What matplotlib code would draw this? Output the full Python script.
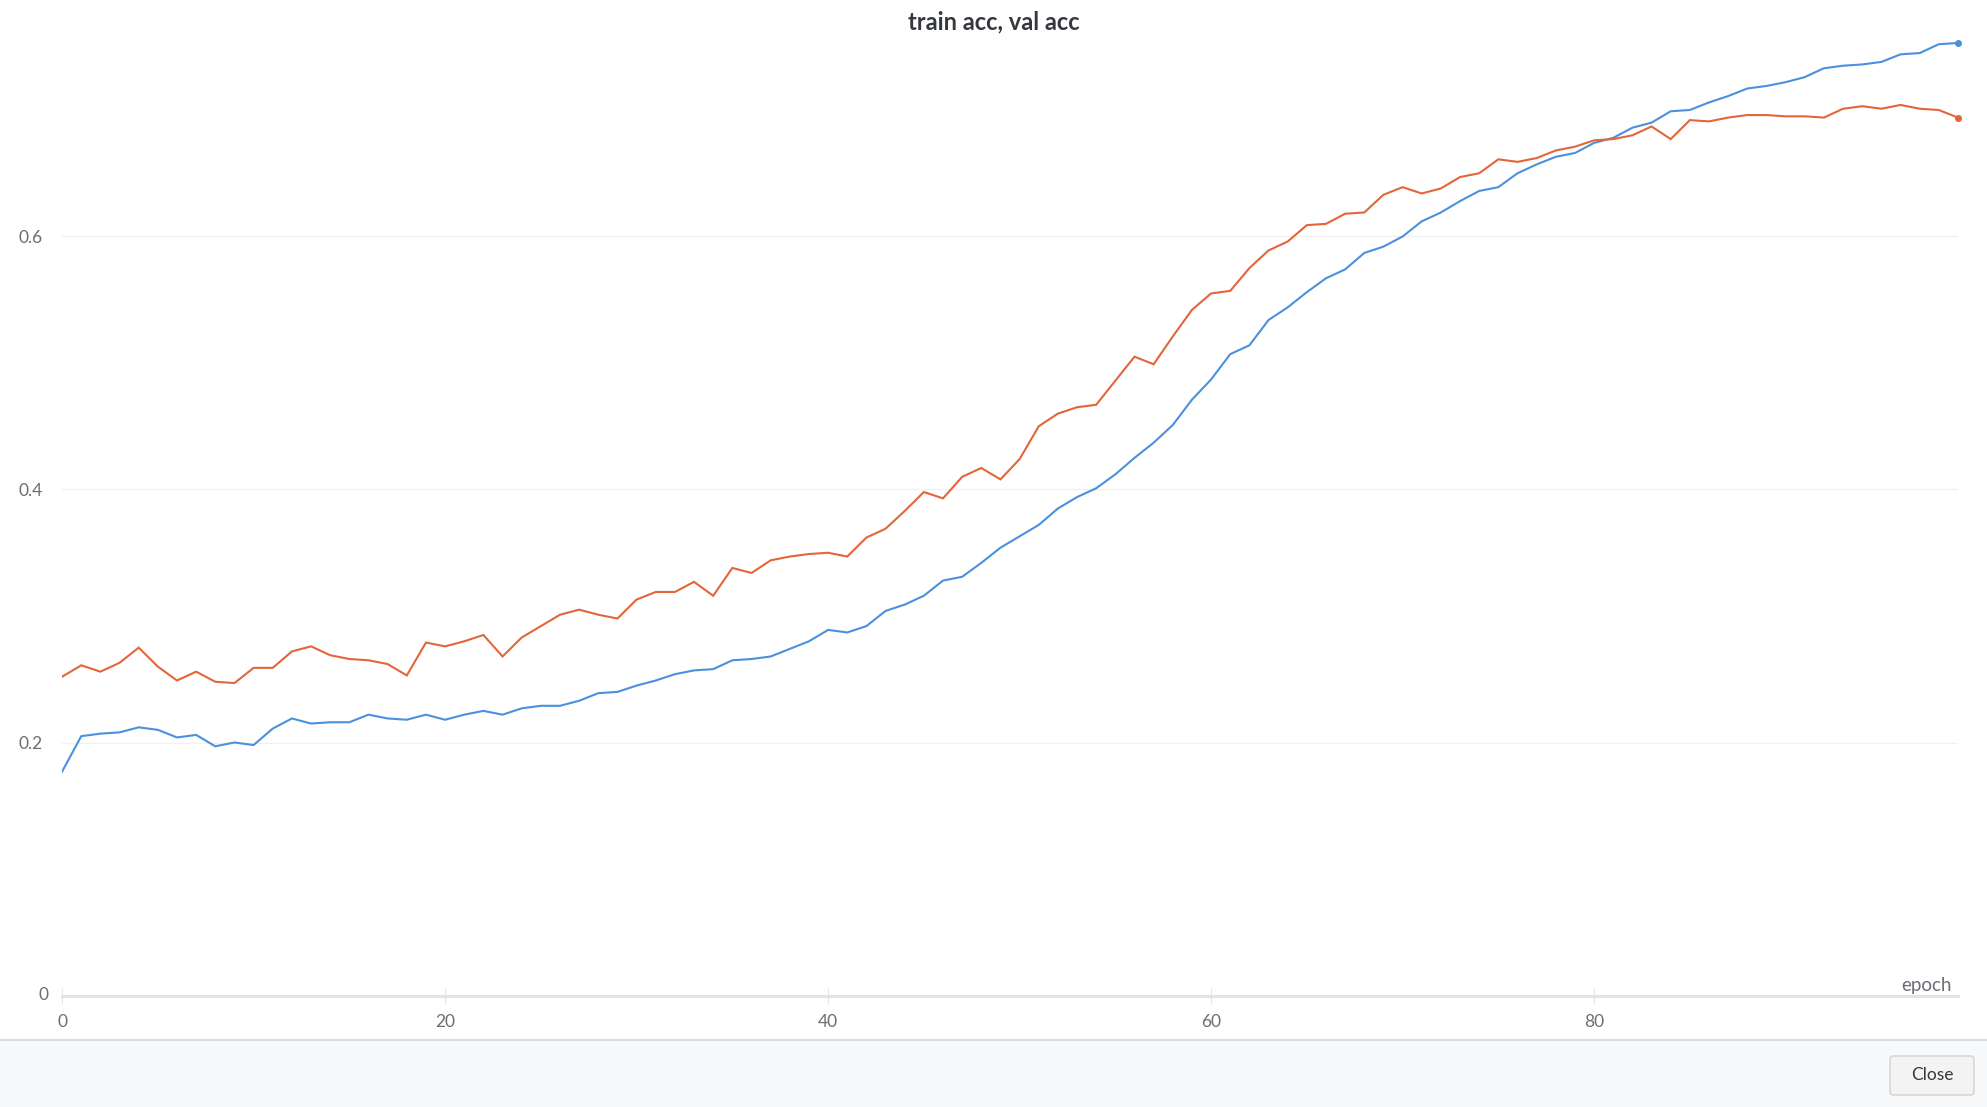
import matplotlib
matplotlib.use("Agg")
import matplotlib.pyplot as plt
from matplotlib.patches import FancyBboxPatch

# ── data (epochs 0..99) ──────────────────────────────────────────────────────
epochs = list(range(100))

train_acc = [
    0.177, 0.205, 0.207, 0.208, 0.212, 0.210, 0.204, 0.206, 0.197, 0.200,
    0.198, 0.211, 0.219, 0.215, 0.216, 0.216, 0.222, 0.219, 0.218, 0.222,
    0.218, 0.222, 0.225, 0.222, 0.227, 0.229, 0.229, 0.233, 0.239, 0.240,
    0.245, 0.249, 0.254, 0.257, 0.258, 0.265, 0.266, 0.268, 0.274, 0.280,
    0.289, 0.287, 0.292, 0.304, 0.309, 0.316, 0.328, 0.331, 0.342, 0.354,
    0.363, 0.372, 0.385, 0.394, 0.401, 0.412, 0.425, 0.437, 0.451, 0.471,
    0.487, 0.507, 0.514, 0.534, 0.544, 0.556, 0.567, 0.574, 0.587, 0.592,
    0.600, 0.612, 0.619, 0.628, 0.636, 0.639, 0.650, 0.657, 0.663, 0.666,
    0.674, 0.678, 0.686, 0.690, 0.699, 0.700, 0.706, 0.711, 0.717, 0.719,
    0.722, 0.726, 0.733, 0.735, 0.736, 0.738, 0.744, 0.745, 0.752, 0.753,
]

val_acc = [
    0.252, 0.261, 0.256, 0.263, 0.275, 0.260, 0.249, 0.256, 0.248, 0.247,
    0.259, 0.259, 0.272, 0.276, 0.269, 0.266, 0.265, 0.262, 0.253, 0.279,
    0.276, 0.280, 0.285, 0.268, 0.283, 0.292, 0.301, 0.305, 0.301, 0.298,
    0.313, 0.319, 0.319, 0.327, 0.316, 0.338, 0.334, 0.344, 0.347, 0.349,
    0.350, 0.347, 0.362, 0.369, 0.383, 0.398, 0.393, 0.410, 0.417, 0.408,
    0.424, 0.450, 0.460, 0.465, 0.467, 0.486, 0.505, 0.499, 0.521, 0.542,
    0.555, 0.557, 0.575, 0.589, 0.596, 0.609, 0.610, 0.618, 0.619, 0.633,
    0.639, 0.634, 0.638, 0.647, 0.650, 0.661, 0.659, 0.662, 0.668, 0.671,
    0.676, 0.677, 0.680, 0.687, 0.677, 0.692, 0.691, 0.694, 0.696, 0.696,
    0.695, 0.695, 0.694, 0.701, 0.703, 0.701, 0.704, 0.701, 0.700, 0.694,
]

y_ticks = [0, 0.2, 0.4, 0.6]
y_tick_labels = ["0", "0.2", "0.4", "0.6"]
x_ticks = [0, 20, 40, 60, 80]

C_TRAIN = "#4a90dc"
C_VAL = "#e4653a"
C_TICK = "#6b6e75"

plt.rcParams["font.family"] = ["Lato", "DejaVu Sans"]

W, H = 1987, 1107
fig = plt.figure(figsize=(W / 100, H / 100), dpi=100)
fig.patch.set_facecolor("white")

# plot area in pixel terms: x 62..1958, y (0 at 995.5), 1265 px per unit
x0, x1 = 62.1, 62.1 + 19.15 * 99
ymax = 0.765
y_bot = 995.5
ax = fig.add_axes([x0 / W, 1 - y_bot / H, (x1 - x0) / W, ymax * 1265 / H])
ax.set_xlim(0, 99)
ax.set_ylim(0, ymax)

for s in ["top", "right", "left"]:
    ax.spines[s].set_visible(False)
ax.spines["bottom"].set_color("#e3e3e3")
ax.spines["bottom"].set_linewidth(2.2)

ax.set_yticks(y_ticks[1:])
ax.set_yticklabels(y_tick_labels[1:])
ax.set_xticks(x_ticks)
ax.tick_params(axis="y", length=0, pad=14, labelsize=12.5, labelcolor=C_TICK)
ax.tick_params(axis="x", direction="inout", length=12, width=0.8,
               color="#e6e6e6", pad=7, labelsize=12.5, labelcolor=C_TICK)
ax.grid(axis="y", color="#f1f1f1", linewidth=1.0)
ax.set_axisbelow(True)

# "0" label of y axis sits left of the axis line
ax.text(-14 / 19.15, 0, "0", ha="right", va="center", fontsize=12.5, color=C_TICK)

ax.plot(epochs, train_acc, color=C_TRAIN, lw=1.5, solid_joinstyle="miter")
ax.plot(epochs, val_acc, color=C_VAL, lw=1.5, solid_joinstyle="miter")
ax.plot(epochs[-1], train_acc[-1], "o", color=C_TRAIN, ms=4, clip_on=False)
ax.plot(epochs[-1], val_acc[-1], "o", color=C_VAL, ms=4, clip_on=False)

fig.text(1952 / W, 1 - 994 / H, "epoch", ha="right", va="bottom",
         fontsize=13.5, color=C_TICK)

fig.text(0.5, 1 - 22 / H, "train acc, val acc", ha="center", va="center",
         fontsize=17, fontweight="bold", color="#35383d")

# footer panel with Close button
footer = fig.add_axes([0, 0, 1, 1 - 1039 / H])
footer.set_xlim(0, W)
footer.set_ylim(0, H - 1039)
footer.axis("off")
footer.add_patch(plt.Rectangle((0, 0), W, H - 1039, facecolor="#f8f9fa",
                               edgecolor="none"))
footer.axhline(H - 1039 - 0.5, color="#dcdcdc", lw=1.5)
footer.add_patch(FancyBboxPatch((1890, H - 1095), 84, 39,
                                boxstyle="round,pad=0,rounding_size=3",
                                facecolor="#f3f3f4", edgecolor="#d2d2d2", lw=1))
footer.text(1932, H - 1075.5, "Close", ha="center", va="center",
            fontsize=12.5, color="#35383d")

fig.savefig("out.png", dpi=100, facecolor="white")
